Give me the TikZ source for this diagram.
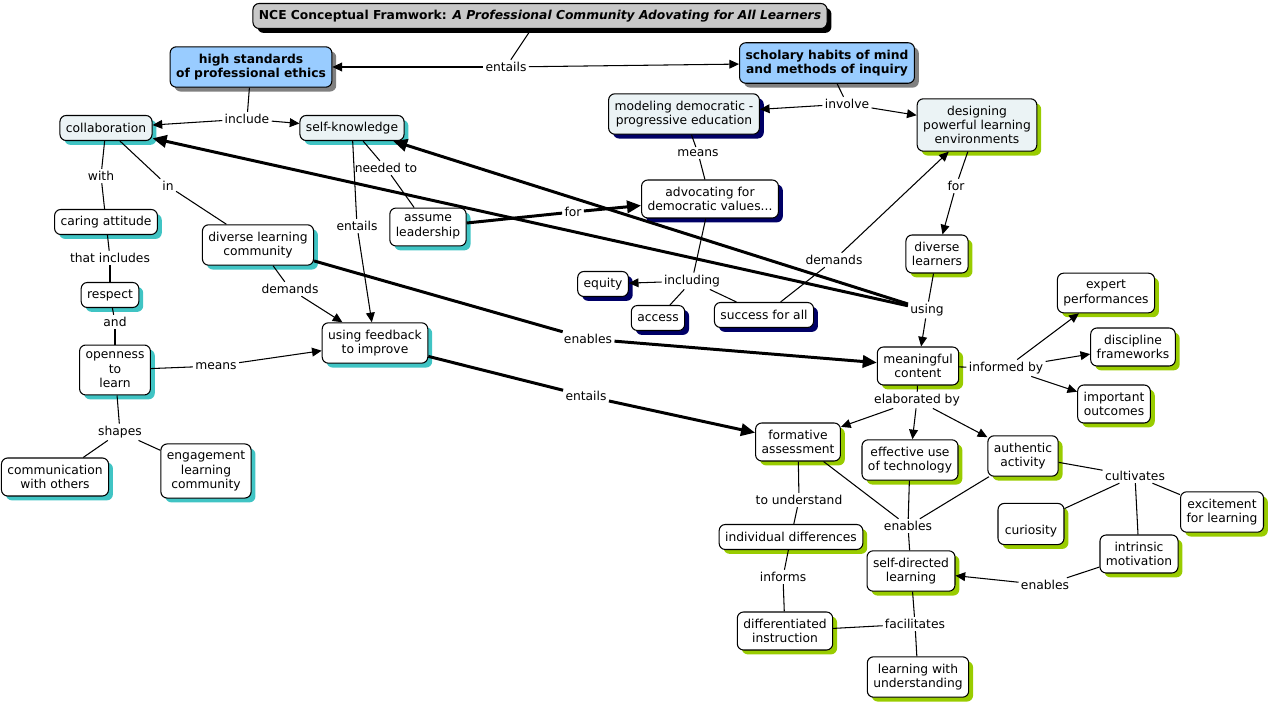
\documentclass[tikz,border=0pt]{standalone}
\usepackage{fontspec}
\setmainfont{DejaVu Sans}
\usetikzlibrary{arrows.meta,shadows}
\definecolor{capfill}{HTML}{C8C8C8}
\definecolor{topfill}{HTML}{99CCFF}
\definecolor{palefill}{HTML}{EBF3F5}
\definecolor{shteal}{HTML}{40C4C4}
\definecolor{shnavy}{HTML}{000066}
\definecolor{shgreen}{HTML}{99CC00}

\begin{document}
\begin{tikzpicture}[
  x=0.02cm, y=-0.02cm,
  every node/.style={font=\fontsize{7}{8.2}\selectfont},
  concept/.style={draw, rounded corners=3.5pt, align=center, inner xsep=3.4pt, inner ysep=4pt, minimum height=0.5cm, line width=0.6pt, fill=white},
  tealc/.style={concept, general shadow={fill=shteal, shadow xshift=2.5pt, shadow yshift=-2.5pt}},
  navyc/.style={concept, general shadow={fill=shnavy, shadow xshift=2.5pt, shadow yshift=-2.5pt}},
  greenc/.style={concept, general shadow={fill=shgreen, shadow xshift=2.5pt, shadow yshift=-2.5pt}},
  topc/.style={concept, fill=topfill, font=\fontsize{7}{8.2}\selectfont\bfseries, general shadow={fill=gray, shadow xshift=2.5pt, shadow yshift=-2.5pt}},
  link/.style={inner sep=1.2pt},
  line/.style={line width=0.6pt},
  arr/.style={line width=0.6pt, -{Triangle[length=5.5pt,width=5pt]}},
  bigline/.style={line width=1.7pt},
  bigarr/.style={line width=1.7pt, -{Triangle[length=8pt,width=7pt]}}
]
\useasboundingbox (0,0) rectangle (1271,705);

% concepts
\node[concept, fill=capfill, font=\fontsize{7}{8.2}\selectfont\bfseries, inner ysep=2.6pt, general shadow={fill=black, shadow xshift=2.5pt, shadow yshift=-2.5pt}] (title) at (540,16) {NCE Conceptual Framwork: \textit{A Professional Community Adovating for All Learners}};
\node[topc] (ethics) at (251,67) {high standards\\of professional ethics};
\node[topc] (inquiry) at (827,63) {scholary habits of mind\\and methods of inquiry};
\node[tealc, fill=palefill, inner ysep=3.3pt] (collab) at (106,128) {collaboration};
\node[tealc, fill=palefill, inner ysep=3.3pt] (selfknow) at (352,128) {self-knowledge};
\node[navyc, fill=palefill] (modeling) at (684,114) {modeling democratic -\\progressive education};
\node[greenc, fill=palefill] (designing) at (977,125) {designing\\powerful learning\\environments};
\node[navyc] (advocating) at (710,199) {advocating for\\democratic values...};
\node[tealc] (leadership) at (428,227) {assume\\leadership};
\node[tealc, inner ysep=3.3pt] (caring) at (106,222) {caring attitude};
\node[tealc] (dlcomm) at (258,245) {diverse learning\\community};
\node[greenc] (dlearners) at (937,254) {diverse\\learners};
\node[navyc, inner ysep=3.3pt] (equity) at (603,284) {equity};
\node[navyc, inner ysep=3.3pt] (access) at (658,318) {access};
\node[navyc, inner ysep=3.3pt] (success) at (764,315) {success for all};
\node[tealc, inner ysep=3.3pt] (respect) at (110,295) {respect};
\node[tealc] (feedback) at (375,343) {using feedback\\to improve};
\node[tealc] (openness) at (115,370) {openness\\to\\learn};
\node[greenc] (expert) at (1106,293) {expert\\performances};
\node[greenc] (discipline) at (1133,347) {discipline\\frameworks};
\node[greenc] (outcomes) at (1114,404) {important\\outcomes};
\node[greenc] (meaning) at (918,366) {meaningful\\content};
\node[greenc] (formative) at (798,442) {formative\\assessment};
\node[greenc] (technology) at (910,460) {effective use\\of technology};
\node[greenc] (authentic) at (1023,456) {authentic\\activity};
\node[tealc] (communic) at (55,477) {communication\\with others};
\node[tealc] (engage) at (206,471) {engagement\\learning\\community};
\node[greenc] (excite) at (1222,512) {excitement\\for learning};
\node[greenc, minimum width=1.32cm] (curiosity) at (1031,524) {\strut\\curiosity};
\node[greenc, inner ysep=3.3pt] (indiv) at (791,537) {individual differences};
\node[greenc] (intrinsic) at (1139,554) {intrinsic\\motivation};
\node[greenc] (selfdir) at (911,571) {self-directed\\learning};
\node[greenc] (differ) at (785,631) {differentiated\\instruction};
\node[greenc] (understand) at (918,677) {learning with\\understanding};

% linking phrases
\node[link] (lEntails0) at (506,67) {entails};
\node[link] (lInclude) at (247,119) {include};
\node[link] (lInvolve) at (847,104) {involve};
\node[link] (lMeans0) at (698,153) {means};
\node[link] (lFor0) at (956,186) {for};
\node[link] (lWith) at (101,176) {with};
\node[link] (lIn) at (168,186) {in};
\node[link] (lNeeded) at (386,168) {needed to};
\node[link] (lEntails1) at (357,226) {entails};
\node[link] (lFor1) at (573,212) {for};
\node[link] (lThat) at (110,258) {that includes};
\node[link] (lAnd) at (115,322) {and};
\node[link] (lDemands0) at (290,289) {demands};
\node[link] (lEnables0) at (588,339) {enables};
\node[link] (lIncluding) at (692,281) {including};
\node[link] (lDemands1) at (834,260) {demands};
\node[link] (lUsing) at (927,310) {using};
\node[link] (lMeans1) at (216,366) {means};
\node[link] (lShapes) at (120,432) {shapes};
\node[link] (lEntails2) at (586,396) {entails};
\node[link] (lInformed) at (1006,368) {informed by};
\node[link] (lElab) at (917,400) {elaborated by};
\node[link] (lCult) at (1135,476) {cultivates};
\node[link] (lEnables1) at (908,526) {enables};
\node[link] (lUnderstand) at (799,500) {to understand};
\node[link] (lInforms) at (783,577) {informs};
\node[link] (lEnables2) at (1045,585) {enables};
\node[link] (lFacil) at (915,624) {facilitates};

% thin connectors
\draw[line] (title) -- (lEntails0);
\draw[arr] (lEntails0) -- (ethics);
\draw[arr] (lEntails0) -- (inquiry);
\draw[line] (ethics) -- (lInclude);
\draw[arr] (lInclude) -- (collab);
\draw[arr] (lInclude) -- (selfknow);
\draw[line] (inquiry) -- (lInvolve);
\draw[arr] (lInvolve) -- (modeling);
\draw[arr] (lInvolve) -- (designing);
\draw[line] (modeling) -- (lMeans0);
\draw[line] (lMeans0) -- (advocating);
\draw[line] (designing) -- (lFor0);
\draw[arr] (lFor0) -- (dlearners);
\draw[line] (collab) -- (lWith);
\draw[line] (lWith) -- (caring);
\draw[line] (collab) -- (lIn);
\draw[line] (lIn) -- (dlcomm);
\draw[line] (selfknow) -- (lNeeded);
\draw[line] (lNeeded) -- (leadership);
\draw[line] (selfknow) -- (lEntails1);
\draw[arr] (lEntails1) -- (feedback);
\draw[line] (caring) -- (lThat);
\draw[line] (lThat) -- (respect);
\draw[line] (respect) -- (lAnd);
\draw[line] (lAnd) -- (openness);
\draw[line] (dlcomm) -- (lDemands0);
\draw[arr] (lDemands0) -- (feedback);
\draw[line] (advocating) -- (lIncluding);
\draw[arr] (lIncluding) -- (equity);
\draw[line] (lIncluding) -- (access);
\draw[line] (lIncluding) -- (success);
\draw[line] (success) -- (lDemands1);
\draw[arr] (lDemands1) -- (designing);
\draw[line] (dlearners) -- (lUsing);
\draw[arr] (lUsing) -- (meaning);
\draw[line] (openness) -- (lMeans1);
\draw[arr] (lMeans1) -- (feedback);
\draw[line] (openness) -- (lShapes);
\draw[line] (lShapes) -- (communic);
\draw[line] (lShapes) -- (engage);
\draw[line] (meaning) -- (lInformed);
\draw[arr] (lInformed) -- (expert);
\draw[arr] (lInformed) -- (discipline);
\draw[arr] (lInformed) -- (outcomes);
\draw[line] (meaning) -- (lElab);
\draw[arr] (lElab) -- (formative);
\draw[arr] (lElab) -- (technology);
\draw[arr] (lElab) -- (authentic);
\draw[line] (authentic) -- (lCult);
\draw[line] (lCult) -- (curiosity);
\draw[line] (lCult) -- (excite);
\draw[line] (lCult) -- (intrinsic);
\draw[line] (formative) -- (lEnables1);
\draw[line] (technology) -- (lEnables1);
\draw[line] (authentic) -- (lEnables1);
\draw[line] (lEnables1) -- (selfdir);
\draw[line] (formative) -- (lUnderstand);
\draw[line] (lUnderstand) -- (indiv);
\draw[line] (indiv) -- (lInforms);
\draw[line] (lInforms) -- (differ);
\draw[line] (intrinsic) -- (lEnables2);
\draw[arr] (lEnables2) -- (selfdir);
\draw[line] (selfdir) -- (lFacil);
\draw[line] (lFacil) -- (differ);
\draw[line] (lFacil) -- (understand);

% thick connectors
\draw[bigline] (leadership) -- (lFor1);
\draw[bigarr] (lFor1) -- (advocating);
\draw[bigline] (dlcomm) -- (lEnables0);
\draw[bigarr] (lEnables0) -- (meaning);
\draw[bigline] (feedback) -- (lEntails2);
\draw[bigarr] (lEntails2) -- (formative);
\draw[bigarr] (lUsing) -- (collab);
\draw[bigarr] (lUsing) -- (selfknow);
\end{tikzpicture}
\end{document}
